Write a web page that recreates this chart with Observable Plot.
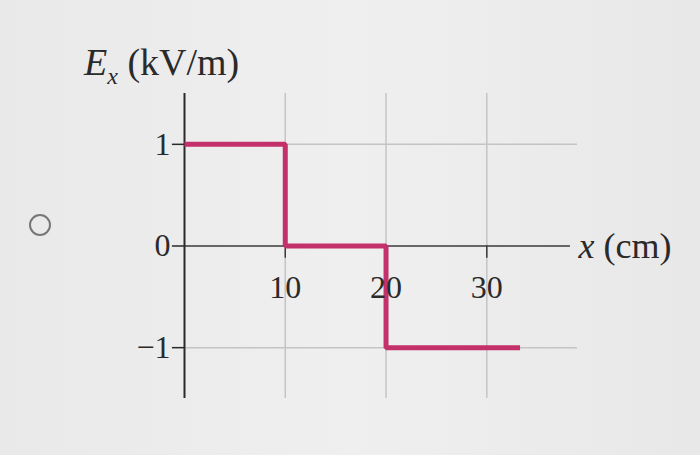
<!DOCTYPE html>
<html>
<head>
<meta charset="utf-8">
<script src="https://cdn.jsdelivr.net/npm/d3@7"></script>
<script src="https://cdn.jsdelivr.net/npm/@observablehq/plot@0.6"></script>
<style>
  html, body { margin: 0; padding: 0; background: #ebebeb; }
  #wrap { position: relative; width: 700px; height: 455px; background: linear-gradient(90deg, #e9e9e9 0%, #efefef 50%, #e8e8e8 100%); }
  #wrap svg { position: absolute; left: 0; top: 0; background: transparent; }
  .ylab { position: absolute; left: 84px; top: 42px; font-family: "Liberation Serif", serif; font-size: 38px; color: #2a2a2a; line-height: 1.1; }
  .radio { position: absolute; left: 29px; top: 214px; width: 18px; height: 18px; border: 2px solid #777; border-radius: 50%; }
</style>
</head>
<body>
<div id="wrap">
  <div class="radio"></div>
  <div class="ylab"><i>E<sub style="font-size:24px">x</sub></i> (kV/m)</div>
</div>
<script>
// Step function E_x(x)
const xCm = [0, 10, 10, 20, 20, 33.3];
const ExKV = [1, 1, 0, 0, -1, -1];
// Axis ticks / grid
const xTicks = [10, 20, 30];
const yTicks = [1, 0, -1];
const yGrid = [1, -1];
const xMax = 39;
const xAxisEnd = 38.3;

const data = xCm.map((x, i) => ({x, y: ExKV[i]}));
const font = "Liberation Serif, serif";

const chart = Plot.plot({
  width: 700,
  height: 455,
  marginLeft: 184,
  marginRight: 123,
  marginTop: 93,
  marginBottom: 57,
  x: {type: "linear", domain: [0, xMax], axis: null},
  y: {type: "linear", domain: [-1.5, 1.5], axis: null},
  style: {background: "transparent", fontFamily: font},
  marks: [
    // grid
    Plot.ruleX(xTicks, {x: d => d, y1: -1.5, y2: 1.5, stroke: "#c4c4c4", strokeWidth: 1.5}),
    Plot.ruleY(yGrid, {y: d => d, x1: 0, x2: xMax, stroke: "#c4c4c4", strokeWidth: 1.5}),
    // x axis line
    Plot.ruleY([0], {x1: 0, x2: xAxisEnd, stroke: "#3a3a3a", strokeWidth: 1.5}),
    // y axis line
    Plot.ruleX([0], {y1: -1.5, y2: 1.5, stroke: "#2a2a2a", strokeWidth: 2}),
    // y tick marks
    Plot.ruleY(yTicks, {y: d => d, x1: -1.2, x2: 0, stroke: "#2a2a2a", strokeWidth: 1.5}),
    // x tick marks
    Plot.ruleX(xTicks, {x: d => d, y1: 0, y2: -0.12, stroke: "#3a3a3a", strokeWidth: 1.5}),
    // step line
    Plot.line(data, {x: "x", y: "y", stroke: "#c4306a", strokeWidth: 5, strokeLinejoin: "miter", strokeLinecap: "butt"}),
    // tick labels
    Plot.text(yTicks, {x: 0, y: d => d, text: d => d < 0 ? "\u2212" + Math.abs(d) : String(d), dx: -14, textAnchor: "end", fontSize: 32, fill: "#2a2a2a", fontFamily: font}),
    Plot.text(xTicks, {x: d => d, y: 0, text: d => String(d), dy: 42, fontSize: 32, fill: "#2a2a2a", fontFamily: font}),
    // x axis label
    Plot.text(["x (cm)"], {x: xAxisEnd, y: 0, dx: 8, textAnchor: "start", text: d => d, fontSize: 36, fill: "#2a2a2a", fontFamily: font})
  ]
});
document.getElementById("wrap").appendChild(chart);
// italic x in axis label
chart.querySelectorAll("text").forEach(t => {
  if (t.textContent === "x (cm)") {
    t.textContent = "";
    const ns = "http://www.w3.org/2000/svg";
    const a = document.createElementNS(ns, "tspan"); a.setAttribute("font-style", "italic"); a.textContent = "x";
    const b = document.createElementNS(ns, "tspan"); b.textContent = " (cm)";
    t.appendChild(a); t.appendChild(b);
  }
});
</script>
</body>
</html>
